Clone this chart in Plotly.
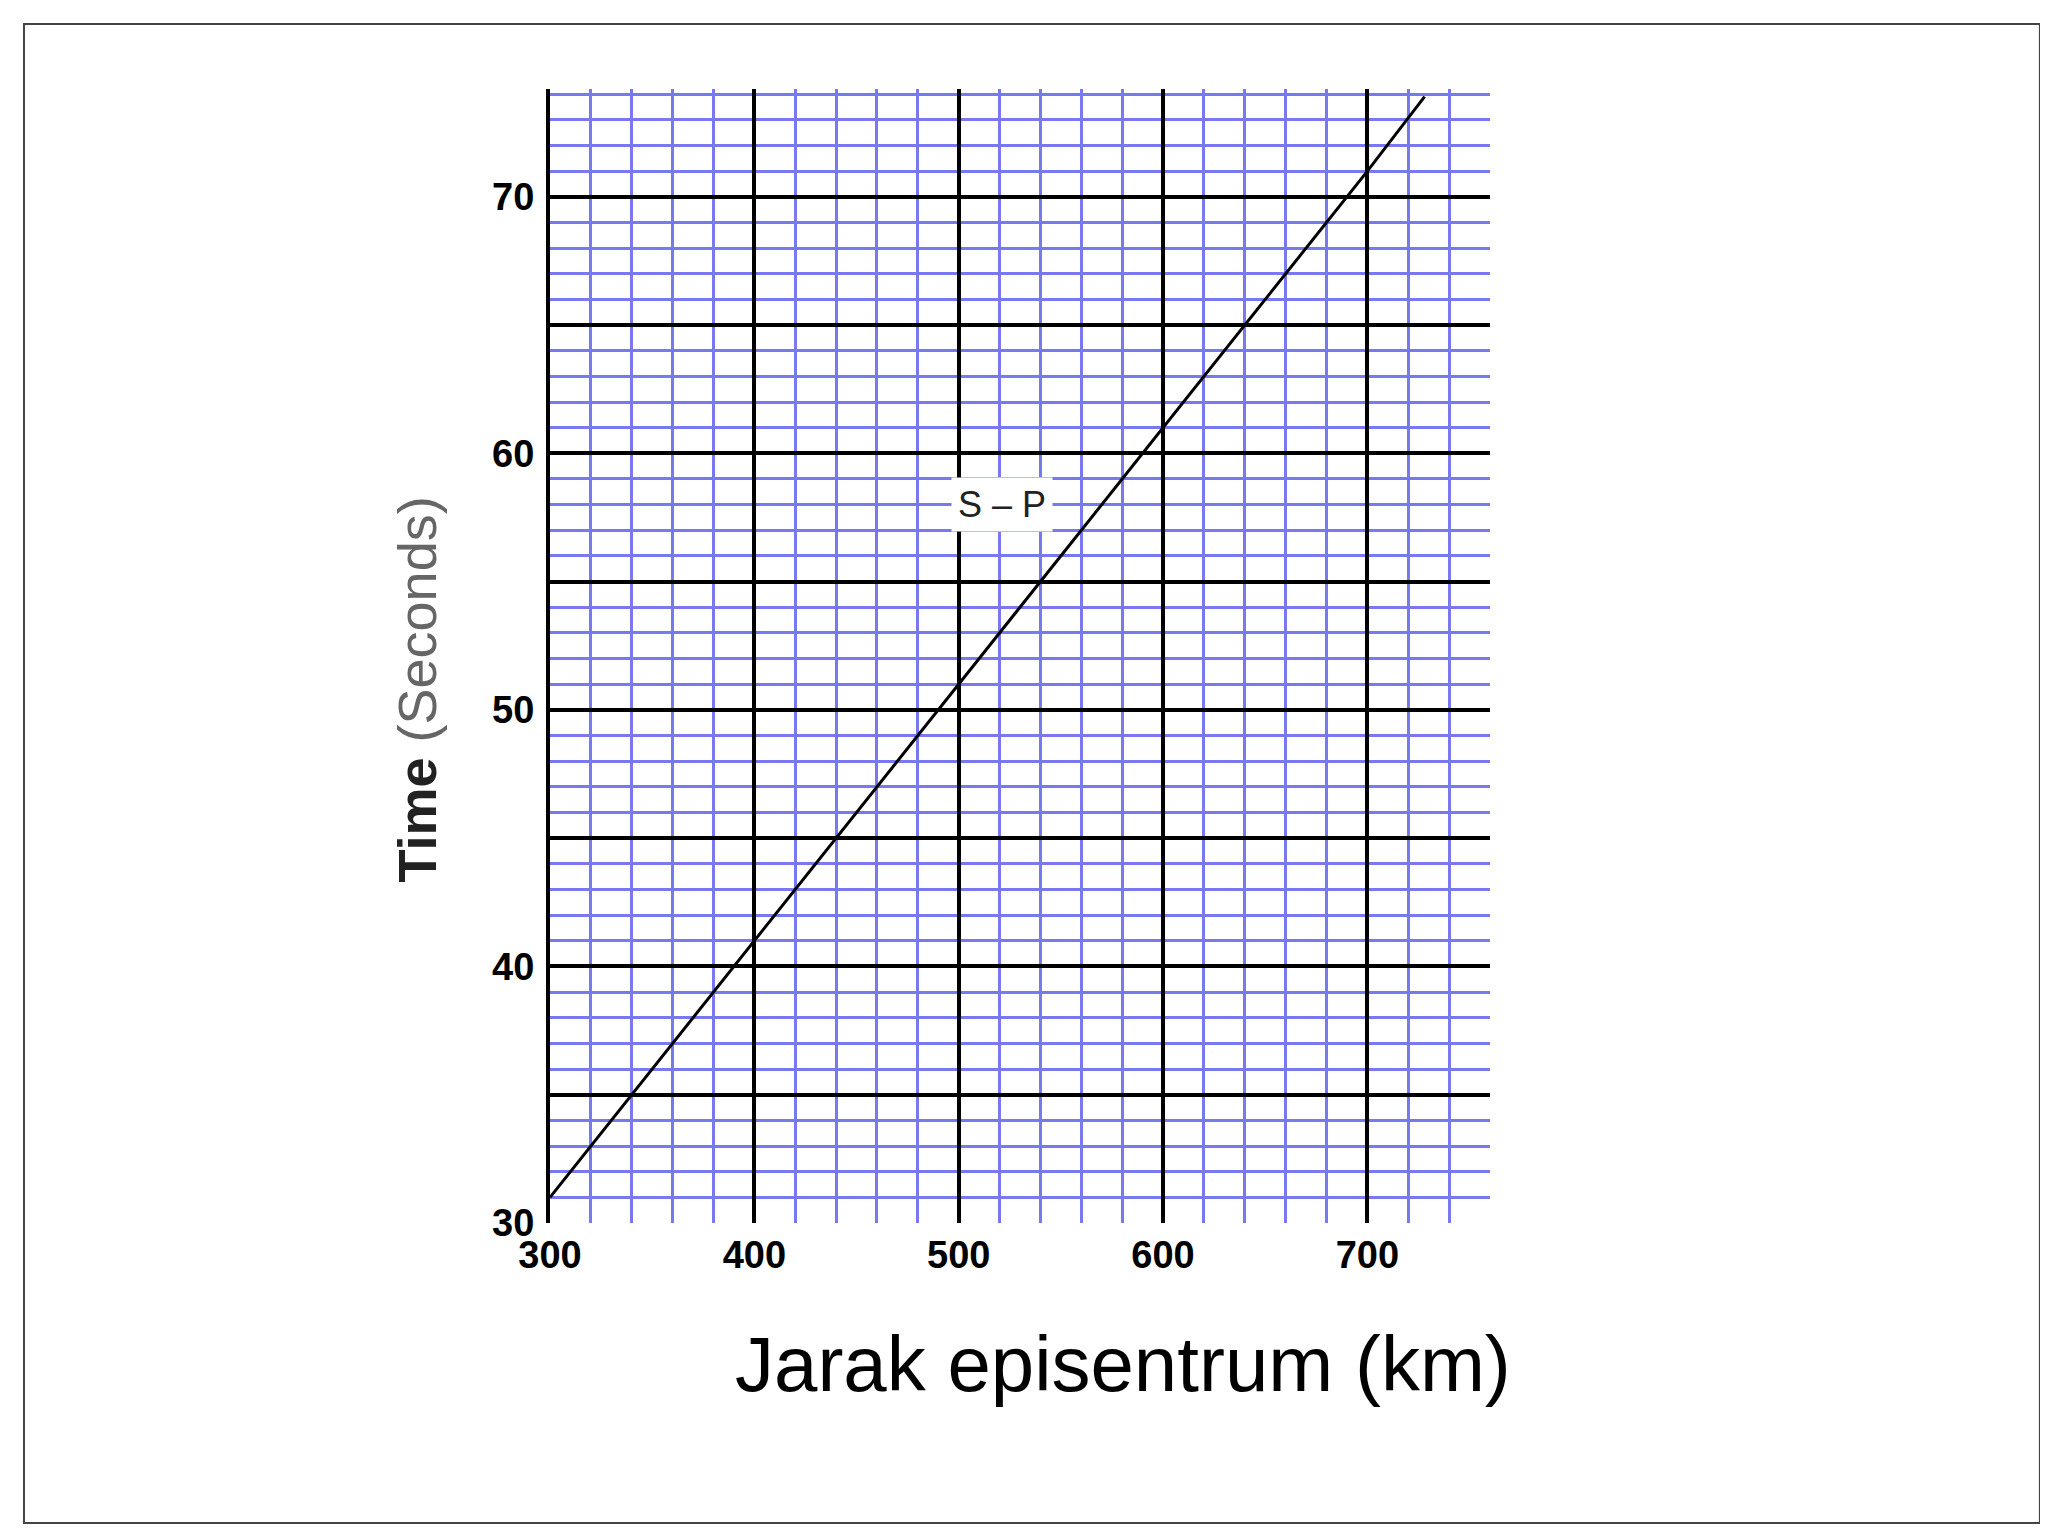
import plotly.graph_objects as go

distance_km = [300, 400, 500, 600, 700, 728]
time_s = [31, 41, 51, 61, 71, 73.9]
x_ticks = [300, 400, 500, 600, 700]
y_ticks = [30, 35, 40, 45, 50, 55, 60, 65, 70]
y_ticktext = ["30", "", "40", "", "50", "", "60", "", "70"]

fig = go.Figure()
fig.add_trace(go.Scatter(x=distance_km, y=time_s, mode="lines",
                         line=dict(color="black", width=3), showlegend=False))
fig.add_annotation(x=521, y=58, text="S – P", showarrow=False, bgcolor="white",
                   font=dict(family="Arial", size=36, color="#222"), borderpad=6)

fig.update_xaxes(range=[300, 760], tickvals=x_ticks, showgrid=True, gridcolor="black", gridwidth=4,
                 minor=dict(dtick=20, tick0=300, showgrid=True, gridcolor="#7878f0", gridwidth=3),
                 zeroline=False, tickfont=dict(family="Arial", size=38, color="black", weight="bold"),
                 ticks="", ticklabelstandoff=6)
fig.update_yaxes(range=[30, 74.2], tickvals=y_ticks, ticktext=y_ticktext, showgrid=True,
                 gridcolor="black", gridwidth=4,
                 minor=dict(dtick=1, tick0=30, showgrid=True, gridcolor="#7878f0", gridwidth=3),
                 zeroline=False, showline=True, linecolor="black", linewidth=4,
                 tickfont=dict(family="Arial", size=38, color="black", weight="bold"), ticks="",
                 ticklabelstandoff=4)

fig.add_annotation(xref="paper", yref="paper", x=0.61, y=-0.165, text="Jarak episentrum (km)",
                   showarrow=False, font=dict(family="Liberation Sans, Arial", size=78, color="black"))
fig.add_annotation(xref="paper", yref="paper", x=-0.175, y=0.47, textangle=-90,
                   text="<b>Time</b> <span style='color:#666'>(Seconds)</span>",
                   showarrow=False, font=dict(family="Liberation Sans, Arial", size=54, color="#222"))
fig.add_shape(type="rect", xref="paper", yref="paper", x0=-0.5596, x1=1.585, y0=-0.2646, y1=1.0573,
              line=dict(color="#444", width=2), layer="below")

fig.update_layout(width=2048, height=1536, plot_bgcolor="white", paper_bgcolor="white",
                  margin=dict(l=542, r=566, t=81, b=321), showlegend=False)
fig.write_html("out.html")
